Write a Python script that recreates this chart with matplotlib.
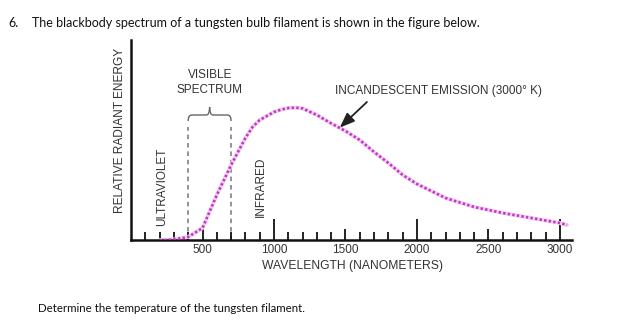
import numpy as np
import matplotlib
matplotlib.use("Agg")
import matplotlib.pyplot as plt
from matplotlib.path import Path
from matplotlib.patches import PathPatch

# ---- data ----
wavelength_nm = [200, 250, 300, 400, 500, 600, 700, 800, 850, 900, 1000, 1050, 1100, 1150,
                 1200, 1300, 1400, 1500, 1600, 1700, 1800, 1900, 2000, 2200, 2400, 2600,
                 2800, 3000, 3050]
relative_energy = [0.0, 0.0, 0.003, 0.015, 0.06, 0.225, 0.375, 0.51, 0.565, 0.6, 0.64, 0.652,
                   0.66, 0.662, 0.658, 0.625, 0.583, 0.545, 0.5, 0.44, 0.385, 0.325, 0.28,
                   0.21, 0.165, 0.135, 0.11, 0.085, 0.075]
tick_labels = ["500", "1000", "1500", "2000", "2500", "3000"]
tick_values = [500, 1000, 1500, 2000, 2500, 3000]
visible_range = [400, 700]

fig = plt.figure(figsize=(6.26, 3.21), dpi=100)
W, H = 626, 321
x0, x1 = 131, 575
ybase, ytop = 240, 40
ax = fig.add_axes([x0 / W, 1 - ybase / H, (x1 - x0) / W, (ybase - ytop) / H])
xmax = (x1 - x0) / 0.143
ax.set_xlim(0, xmax)
ax.set_ylim(0, 1)

for s in ["top", "right"]:
    ax.spines[s].set_visible(False)
for s in ["left", "bottom"]:
    ax.spines[s].set_linewidth(1.8)
    ax.spines[s].set_color("#111111")
ax.spines["bottom"].set_bounds(0, 3085)
ax.set_yticks([])

lab = dict(family="Liberation Sans", color="#333333")
ax.set_xticks(tick_values)
ax.set_xticklabels(tick_labels, fontsize=8.5, **lab)
ax.set_xticks([v for v in range(100, 3001, 100) if v not in tick_values], minor=True)
ax.tick_params(axis="x", which="both", direction="in", color="#111111", width=1.3, pad=3)
ax.tick_params(axis="x", which="minor", length=6)
for t, v in zip(ax.xaxis.get_major_ticks(), tick_values):
    t.tick1line.set_markersize(15 if v % 1000 == 0 else 8)

# curve
ax.plot(wavelength_nm, relative_energy, color="#f5ccf5", lw=2.8, solid_capstyle="round", zorder=2)
ax.plot(wavelength_nm, relative_energy, color="#bb3bbb", lw=1.9, linestyle=(0, (0.9, 0.85)), zorder=3)

# visible spectrum dashed lines
for v in visible_range:
    ax.plot([v, v], [0, 0.565], color="#777777", lw=1.1, linestyle=(0, (3, 2.5)), zorder=1)

# brace
a, b = visible_range
m = (a + b) / 2
yb, yt = 0.595, 0.665
codes = [Path.MOVETO, Path.CURVE3, Path.CURVE3, Path.LINETO, Path.CURVE4, Path.CURVE4, Path.CURVE4]
for end, sgn in ((a, 1), (b, -1)):
    vv = [(end, yb), (end, yb + 0.03), (end + sgn * 25, yb + 0.03),
          (m - sgn * 25, yb + 0.03), (m - sgn * 8, yb + 0.03), (m - sgn * 3, yb + 0.04), (m, yt)]
    ax.add_patch(PathPatch(Path(vv, codes), fill=False, edgecolor="#666666", lw=1.0))

ax.text(m, 0.825, "VISIBLE", ha="center", va="center", fontsize=8.5, **lab)
ax.text(m, 0.75, "SPECTRUM", ha="center", va="center", fontsize=8.5, **lab)
ax.text(215, 0.265, "ULTRAVIOLET", rotation=90, ha="center", va="center", fontsize=8.5, **lab)
ax.text(905, 0.265, "INFRARED", rotation=90, ha="center", va="center", fontsize=8.5, **lab)
ax.text(2150, 0.745, "INCANDESCENT EMISSION (3000° K)", ha="center", va="center", fontsize=8.5, **lab)
ax.annotate("", xy=(1460, 0.562), xytext=(1650, 0.69),
            arrowprops=dict(arrowstyle="-|>,head_length=0.9,head_width=0.35", color="#222222",
                            lw=1.3, shrinkA=0, shrinkB=0), zorder=4)
ax.set_xlabel("WAVELENGTH (NANOMETERS)", fontsize=8.7, labelpad=3, **lab)
fig.text(120 / W, 1 - 130 / H, "RELATIVE RADIANT ENERGY", rotation=90, ha="center", va="center",
         fontsize=8.6, **lab)

fig.text(8 / W, 1 - 23 / H, "6.", fontsize=9, family="Lato", va="center", color="#111111")
fig.text(32 / W, 1 - 23 / H, "The blackbody spectrum of a tungsten bulb filament is shown in the figure below.",
         fontsize=9, family="Lato", va="center", color="#111111")
fig.text(38 / W, 1 - 308 / H, "Determine the temperature of the tungsten filament.",
         fontsize=8.3, family="Lato", va="center", color="#111111")

fig.savefig("out.png", dpi=100, facecolor="white")
